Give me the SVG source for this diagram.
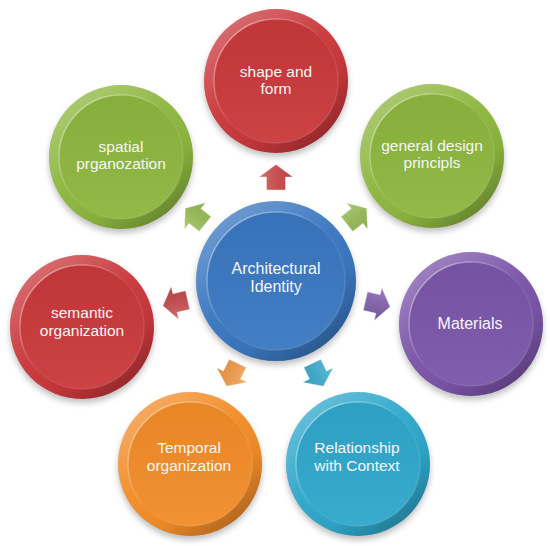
<svg xmlns="http://www.w3.org/2000/svg" width="550" height="546" viewBox="0 0 550 546">
<defs>
<linearGradient id="rim" x1="0.15" y1="0.05" x2="0.85" y2="0.95">
<stop offset="0" stop-color="#fff" stop-opacity="0.28"/>
<stop offset="0.45" stop-color="#fff" stop-opacity="0.03"/>
<stop offset="0.7" stop-color="#000" stop-opacity="0.04"/>
<stop offset="1" stop-color="#000" stop-opacity="0.3"/>
</linearGradient>
<linearGradient id="inner" x1="0" y1="0" x2="0" y2="1">
<stop offset="0" stop-color="#000" stop-opacity="0.04"/>
<stop offset="1" stop-color="#fff" stop-opacity="0.05"/>
</linearGradient>
<linearGradient id="edge" x1="0.1" y1="0.1" x2="0.9" y2="0.9">
<stop offset="0" stop-color="#fff" stop-opacity="0.45"/>
<stop offset="0.5" stop-color="#fff" stop-opacity="0.05"/>
<stop offset="1" stop-color="#fff" stop-opacity="0.15"/>
</linearGradient>
<linearGradient id="arr" x1="0" y1="0" x2="0" y2="1">
<stop offset="0" stop-color="#fff" stop-opacity="0.2"/>
<stop offset="1" stop-color="#000" stop-opacity="0.08"/>
</linearGradient>
<filter id="sh" x="-30%" y="-30%" width="160%" height="160%">
<feGaussianBlur stdDeviation="3"/>
</filter>
<path id="ah" d="M-13,-9.5 L0,-9.5 L0,-17 L12.5,0 L0,17 L0,9.5 L-13,9.5 Z"/>
</defs>
<style>
.sh{fill:#000;opacity:0.25;filter:url(#sh)}
.rim{fill:url(#rim)}
.inn{fill:url(#inner);stroke:url(#edge);stroke-width:1.5}
.t{font-family:"Liberation Sans",Arial,sans-serif;font-size:15.5px;fill:#f6f6f6;text-anchor:middle}
.big{font-size:16px}
.a{stroke:#fff;stroke-opacity:0.45;stroke-width:1}
.ao{fill:url(#arr)}
</style>
<rect width="550" height="546" fill="#fff"/>

<g id="connectors">
<g transform="translate(276,177) rotate(-90)"><use href="#ah" class="a" fill="#D24B4B"/><use href="#ah" class="ao"/></g>
<g transform="translate(357,216) rotate(-38.57)"><use href="#ah" class="a" fill="#9BC257"/><use href="#ah" class="ao"/></g>
<g transform="translate(378,304) rotate(12.86)"><use href="#ah" class="a" fill="#8462B2"/><use href="#ah" class="ao"/></g>
<g transform="translate(318,375) rotate(64.29)"><use href="#ah" class="a" fill="#3DB1D3"/><use href="#ah" class="ao"/></g>
<g transform="translate(232,375) rotate(115.71)"><use href="#ah" class="a" fill="#F7A04A"/><use href="#ah" class="ao"/></g>
<g transform="translate(175,303) rotate(167.14)"><use href="#ah" class="a" fill="#C94A4C"/><use href="#ah" class="ao"/></g>
<g transform="translate(195,216) rotate(218.57)"><use href="#ah" class="a" fill="#9BC257"/><use href="#ah" class="ao"/></g>
</g>

<g id="center">
<circle class="sh" cx="276" cy="285" r="80"/>
<circle cx="276" cy="281" r="80" fill="#3A77C0"/>
<circle class="rim" cx="276" cy="281" r="80"/>
<circle cx="276" cy="281" r="69" fill="#3A77C0"/>
<circle class="inn" cx="276" cy="281" r="69"/>
<text class="t big" x="276" y="274">Architectural</text>
<text class="t big" x="276" y="292">Identity</text>
</g>

<g id="shape-form">
<circle class="sh" cx="276" cy="85" r="72"/>
<circle cx="276" cy="81" r="72" fill="#C9383B"/>
<circle class="rim" cx="276" cy="81" r="72"/>
<circle cx="276" cy="81" r="62" fill="#C9383B"/>
<circle class="inn" cx="276" cy="81" r="62"/>
<text class="t" x="276" y="77">shape and</text>
<text class="t" x="276" y="94">form</text>
</g>

<g id="general-design">
<circle class="sh" cx="432" cy="160" r="72"/>
<circle cx="432" cy="156" r="72" fill="#8DB63E"/>
<circle class="rim" cx="432" cy="156" r="72"/>
<circle cx="432" cy="156" r="62" fill="#8DB63E"/>
<circle class="inn" cx="432" cy="156" r="62"/>
<text class="t" x="432" y="151">general design</text>
<text class="t" x="432" y="168">principls</text>
</g>

<g id="materials">
<circle class="sh" cx="471" cy="328" r="72"/>
<circle cx="471" cy="324" r="72" fill="#7B55A9"/>
<circle class="rim" cx="471" cy="324" r="72"/>
<circle cx="471" cy="324" r="62" fill="#7B55A9"/>
<circle class="inn" cx="471" cy="324" r="62"/>
<text class="t big" x="470" y="329">Materials</text>
</g>

<g id="relationship">
<circle class="sh" cx="358" cy="468" r="72"/>
<circle cx="358" cy="464" r="72" fill="#2FA7CB"/>
<circle class="rim" cx="358" cy="464" r="72"/>
<circle cx="358" cy="464" r="62" fill="#2FA7CB"/>
<circle class="inn" cx="358" cy="464" r="62"/>
<text class="t" x="357" y="453">Relationship</text>
<text class="t" x="357" y="471">with Context</text>
</g>

<g id="temporal">
<circle class="sh" cx="190" cy="468" r="72"/>
<circle cx="190" cy="464" r="72" fill="#F28C28"/>
<circle class="rim" cx="190" cy="464" r="72"/>
<circle cx="190" cy="464" r="62" fill="#F28C28"/>
<circle class="inn" cx="190" cy="464" r="62"/>
<text class="t" x="189" y="453">Temporal</text>
<text class="t" x="189" y="471">organization</text>
</g>

<g id="semantic">
<circle class="sh" cx="82" cy="331" r="72"/>
<circle cx="82" cy="327" r="72" fill="#C9383B"/>
<circle class="rim" cx="82" cy="327" r="72"/>
<circle cx="82" cy="327" r="62" fill="#C9383B"/>
<circle class="inn" cx="82" cy="327" r="62"/>
<text class="t" x="82" y="318">semantic</text>
<text class="t" x="82" y="336">organization</text>
</g>

<g id="spatial">
<circle class="sh" cx="121" cy="161" r="72"/>
<circle cx="121" cy="157" r="72" fill="#8DB63E"/>
<circle class="rim" cx="121" cy="157" r="72"/>
<circle cx="121" cy="157" r="62" fill="#8DB63E"/>
<circle class="inn" cx="121" cy="157" r="62"/>
<text class="t" x="121" y="152">spatial</text>
<text class="t" x="121" y="169">prganozation</text>
</g>
</svg>
